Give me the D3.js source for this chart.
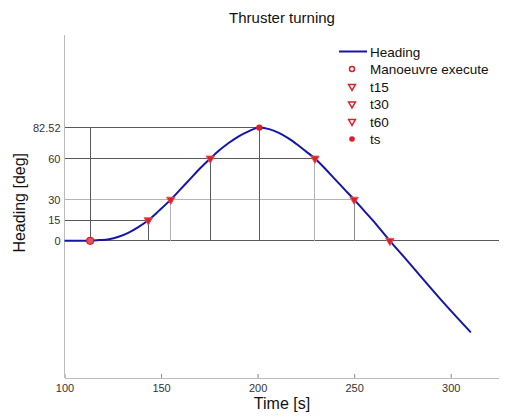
<!DOCTYPE html>
<html>
<head>
<meta charset="utf-8">
<script src="https://cdn.jsdelivr.net/npm/d3@7"></script>
<style>
  body { margin: 0; background: #fff; }
  text { font-family: "Liberation Sans", Arial, sans-serif; }
</style>
</head>
<body>
<div id="chart"></div>
<script>
// heading curve
const time = [100, 105, 110, 113.3, 118, 123, 128, 133, 138, 143.4, 149, 155, 160, 165, 170,
  175.5, 180, 185, 190, 195, 200.9, 206, 211, 216, 221, 225, 229.7, 235, 240, 245, 250,
  255, 260, 264, 268.5, 275, 285, 295, 305, 310.4]
const heading = [0, 0, 0, 0, 0.5, 1.2, 3, 5.8, 9.8, 15, 22, 30, 37.5, 45, 52.5,
  60, 65.8, 71.3, 76, 79.6, 82.52, 81.4, 78.6, 74.6, 69.6, 65.2, 60, 52.5, 45, 37.5, 30,
  22.2, 14.3, 7.6, 0, -10.5, -26.8, -43, -58.5, -66.7]

// event markers
const eventNames = ['Manoeuvre execute', 't15', 't30', 't60', 'ts', 't60', 't30', 't15']
const eventTimes = [113.3, 143.4, 155.0, 175.5, 200.9, 229.7, 250.0, 268.5]
const eventHeading = [0, 15, 30, 60, 82.52, 60, 30, 0]

const yTicks = [0, 15, 30, 60, 82.52]
const xTicks = [100, 150, 200, 250, 300]
const legendNames = ['Heading', 'Manoeuvre execute', 't15', 't30', 't60', 'ts']

const width = 521, height = 420
const margin = {top: 35, right: 22, bottom: 42, left: 64.5}

const svg = d3.select('#chart').append('svg')
  .attr('width', width).attr('height', height)

const x = d3.scaleLinear().domain([100, 325]).range([margin.left, width - margin.right])
const y = d3.scaleLinear().domain([-100, 150]).range([height - margin.bottom, margin.top])

const red = '#d92026'
const dark = '#5a5a5a', light = '#b4b4b4'

// reference lines
const ref = svg.append('g').attr('shape-rendering', 'crispEdges')
const hLines = [
  {v: 82.52, to: 200.9, c: dark},
  {v: 60, to: 229.7, c: dark},
  {v: 30, to: 250.0, c: light},
  {v: 15, to: 143.4, c: dark},
  {v: 0, to: 325, c: dark}
]
hLines.forEach(d => {
  ref.append('line')
    .attr('x1', x(100)).attr('x2', x(d.to))
    .attr('y1', y(d.v)).attr('y2', y(d.v))
    .attr('stroke', d.c)
})
const vColors = [dark, dark, light, dark, dark, light, '#8c8c8c', null]
eventTimes.forEach((t, i) => {
  if (!vColors[i]) return
  const top = i === 0 ? 82.52 : eventHeading[i]
  ref.append('line')
    .attr('x1', x(t)).attr('x2', x(t))
    .attr('y1', y(top)).attr('y2', y(0))
    .attr('stroke', vColors[i])
})

// axes
const xAxis = svg.append('g')
  .attr('transform', `translate(0,${y(-100)})`)
  .call(d3.axisBottom(x).tickValues(xTicks).tickSize(-4).tickPadding(6))
xAxis.select('.domain').remove()
xAxis.selectAll('.tick line').attr('stroke', '#888')
xAxis.selectAll('text').attr('fill', '#333').style('font-size', '11px')

const yAxis = svg.append('g')
  .attr('transform', `translate(${x(100)},0)`)
  .call(d3.axisLeft(y).tickValues(yTicks).tickFormat(d => d).tickSize(0).tickPadding(4))
yAxis.select('.domain').remove()
yAxis.selectAll('text').attr('fill', '#333').style('font-size', '11px')

svg.append('line')
  .attr('x1', x(100)).attr('x2', x(325))
  .attr('y1', y(-100)).attr('y2', y(-100))
  .attr('stroke', '#bbb').attr('shape-rendering', 'crispEdges')
svg.append('line')
  .attr('x1', x(100)).attr('x2', x(100))
  .attr('y1', y(150)).attr('y2', y(-100))
  .attr('stroke', '#bbb').attr('shape-rendering', 'crispEdges')

// heading line
const line = d3.line().x(d => x(d[0])).y(d => y(d[1])).curve(d3.curveMonotoneX)
svg.append('path')
  .datum(time.map((t, i) => [t, heading[i]]))
  .attr('d', line)
  .attr('fill', 'none')
  .attr('stroke', '#1515a8')
  .attr('stroke-width', 2)

// markers
const tri = d3.symbol().type(d3.symbolTriangle).size(30)
eventTimes.forEach((t, i) => {
  const name = eventNames[i]
  const g = svg.append('g').attr('transform', `translate(${x(t)},${y(eventHeading[i])})`)
  if (name === 'Manoeuvre execute') {
    g.append('circle').attr('r', 3.5).attr('fill', '#e05560').attr('stroke', red).attr('stroke-width', 1.2)
  } else if (name === 'ts') {
    g.append('circle').attr('r', 3.2).attr('fill', red)
  } else {
    g.append('path').attr('d', tri).attr('transform', 'rotate(180)')
      .attr('fill', red).attr('stroke', '#e8505a').attr('stroke-width', 1)
  }
})

// title and axis labels
svg.append('text').attr('x', 282).attr('y', 23)
  .attr('text-anchor', 'middle').style('font-size', '15px').attr('fill', '#111')
  .text('Thruster turning')
svg.append('text').attr('x', 282).attr('y', 409)
  .attr('text-anchor', 'middle').style('font-size', '16px').attr('fill', '#111')
  .text('Time [s]')
svg.append('text')
  .attr('transform', `translate(25,${y(0) - 38}) rotate(-90)`)
  .attr('text-anchor', 'middle').style('font-size', '16px').attr('fill', '#111')
  .text('Heading [deg]')

// legend
const legend = svg.append('g')
legendNames.forEach((name, i) => {
  const cy = 51.5 + i * 17.5
  const lx = 352
  if (name === 'Heading') {
    legend.append('line').attr('x1', 339).attr('x2', 367).attr('y1', cy).attr('y2', cy)
      .attr('stroke', '#1515a8').attr('stroke-width', 2)
  } else if (name === 'Manoeuvre execute') {
    legend.append('circle').attr('cx', lx).attr('cy', cy).attr('r', 2.5)
      .attr('fill', 'none').attr('stroke', red).attr('stroke-width', 1.5)
  } else if (name === 'ts') {
    legend.append('circle').attr('cx', lx).attr('cy', cy).attr('r', 2.8).attr('fill', red)
  } else {
    legend.append('path').attr('d', d3.symbol().type(d3.symbolTriangle).size(20))
      .attr('transform', `translate(${lx},${cy}) rotate(180)`)
      .attr('fill', '#fff').attr('stroke', red).attr('stroke-width', 1.5)
  }
  legend.append('text').attr('x', 370).attr('y', cy + 5)
    .style('font-size', '13.5px').attr('fill', '#111').text(name)
})
</script>
</body>
</html>
